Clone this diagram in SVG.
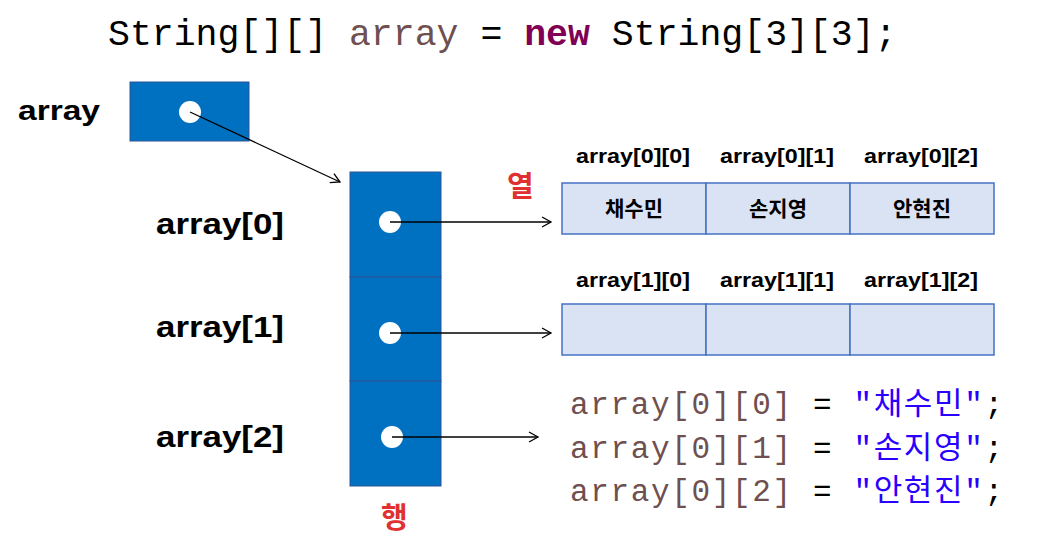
<svg xmlns="http://www.w3.org/2000/svg" width="1045" height="544" viewBox="0 0 1045 544">
<style>
.mono{font-family:"Liberation Mono","DejaVu Sans Mono",monospace}
.lbl{font-family:"Liberation Sans","Noto Sans CJK KR",sans-serif;font-weight:bold;fill:#000}
.cell{fill:#dae3f3;stroke:#4472c4;stroke-width:1.5}
.blue{fill:#0070c0;stroke:#2e5597;stroke-width:1}
.dot{fill:#fff}
.red{font-family:"Noto Sans CJK KR",sans-serif;font-weight:bold;fill:#e03030;font-size:29px}
</style>
<defs><marker id="a" markerWidth="12" markerHeight="12" refX="10" refY="6" orient="auto" markerUnits="userSpaceOnUse"><path d="M1,1 L10,6 L1,11" fill="none" stroke="#000" stroke-width="1.3"/></marker></defs>
<rect width="1045" height="544" fill="#fff"/>
<text class="mono" x="108" y="45" font-size="36.5" fill="#000">String[][] <tspan fill="#6f4f4f">array</tspan> = <tspan fill="#7f0055" font-weight="bold">new</tspan> String[3][3];</text>
<g id="arrayVar">
<text class="lbl" x="18" y="120" font-size="28" textLength="82" lengthAdjust="spacingAndGlyphs">array</text>
<rect class="blue" x="130" y="82" width="119" height="59"/>
<circle class="dot" cx="190" cy="112" r="11"/>
</g>
<g id="rows">
<rect class="blue" x="350" y="172" width="91" height="105"/>
<rect class="blue" x="350" y="277" width="91" height="104"/>
<rect class="blue" x="350" y="381" width="91" height="105"/>
<circle class="dot" cx="390" cy="222" r="11"/>
<circle class="dot" cx="390" cy="333" r="11"/>
<circle class="dot" cx="392" cy="437" r="11"/>
<text class="lbl" x="156" y="234" font-size="29" textLength="128" lengthAdjust="spacingAndGlyphs">array[0]</text>
<text class="lbl" x="156" y="337" font-size="29" textLength="128" lengthAdjust="spacingAndGlyphs">array[1]</text>
<text class="lbl" x="156" y="447" font-size="29" textLength="128" lengthAdjust="spacingAndGlyphs">array[2]</text>
<text class="red" x="381" y="528">행</text>
<text class="red" x="507" y="197">열</text>
</g>
<g id="row0">
<rect class="cell" x="562" y="183" width="144" height="51"/>
<rect class="cell" x="706" y="183" width="144" height="51"/>
<rect class="cell" x="850" y="183" width="144" height="51"/>
<g class="lbl" font-size="21" lengthAdjust="spacingAndGlyphs">
<text x="576" y="163" textLength="114" lengthAdjust="spacingAndGlyphs">array[0][0]</text><text x="720" y="163" textLength="114" lengthAdjust="spacingAndGlyphs">array[0][1]</text><text x="864" y="163" textLength="114" lengthAdjust="spacingAndGlyphs">array[0][2]</text>
</g>
<g class="lbl" font-size="21" text-anchor="middle">
<text x="634" y="216">채수민</text><text x="778" y="216">손지영</text><text x="922" y="216">안현진</text>
</g>
</g>
<g id="row1">
<rect class="cell" x="562" y="304" width="144" height="51"/>
<rect class="cell" x="706" y="304" width="144" height="51"/>
<rect class="cell" x="850" y="304" width="144" height="51"/>
<g class="lbl" font-size="21">
<text x="576" y="287" textLength="114" lengthAdjust="spacingAndGlyphs">array[1][0]</text><text x="720" y="287" textLength="114" lengthAdjust="spacingAndGlyphs">array[1][1]</text><text x="864" y="287" textLength="114" lengthAdjust="spacingAndGlyphs">array[1][2]</text>
</g>
</g>
<g id="code" font-size="31" font-family="'Liberation Mono','Noto Sans CJK KR',monospace">
<text x="570" y="414" fill="#6f4f4f" textLength="433">array[0][0] <tspan fill="#000">=</tspan> <tspan fill="#2a00ff">"채수민"</tspan><tspan fill="#000">;</tspan></text>
<text x="570" y="458" fill="#6f4f4f" textLength="433">array[0][1] <tspan fill="#000">=</tspan> <tspan fill="#2a00ff">"손지영"</tspan><tspan fill="#000">;</tspan></text>
<text x="570" y="501" fill="#6f4f4f" textLength="433">array[0][2] <tspan fill="#000">=</tspan> <tspan fill="#2a00ff">"안현진"</tspan><tspan fill="#000">;</tspan></text>
</g>
<g id="connectors" stroke="#000" stroke-width="1.3" fill="none">
<line x1="190" y1="112" x2="340" y2="182" marker-end="url(#a)"/>
<line x1="390" y1="222" x2="551" y2="222" marker-end="url(#a)"/>
<line x1="390" y1="333" x2="551" y2="333" marker-end="url(#a)"/>
<line x1="392" y1="437" x2="538" y2="437" marker-end="url(#a)"/>
</g>
</svg>
